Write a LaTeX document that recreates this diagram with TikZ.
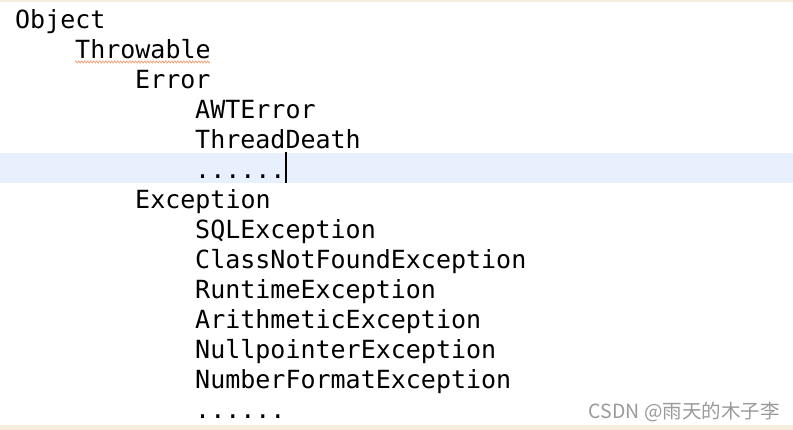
\documentclass[tikz,border=0pt]{standalone}
\usepackage{fontspec}
\setmonofont{DejaVu Sans Mono}
\newfontfamily\cjk{Noto Sans CJK SC}
\usetikzlibrary{decorations.pathmorphing}
\definecolor{beige}{HTML}{F6EFDF}
\definecolor{hl}{HTML}{E8F0FD}
\definecolor{squig}{HTML}{F2A27E}
\definecolor{wm}{HTML}{9A9A9A}
\tikzset{
  code/.style={anchor=base west, inner sep=0pt, font=\ttfamily\fontsize{25}{25}\selectfont, text=black},
  wmark/.style={anchor=base east, inner sep=0pt, font=\cjk\fontsize{19.5}{19.5}\selectfont, text=wm}
}
\begin{document}
\begin{tikzpicture}[x=1pt,y=-1pt]
\useasboundingbox (0,0) rectangle (793,430);
\fill[white] (0,0) rectangle (793,430);
\fill[beige] (0,0) rectangle (793,2.5);
\fill[beige] (0,425) rectangle (793,430);
\fill[hl] (0,153) rectangle (793,183);
\node[code] (l1) at (15,28.5) {Object};
\node[code] (l2) at (75,58.5) {Throwable};
\node[code] (l3) at (135,88.5) {Error};
\node[code] (l4) at (195,118.5) {AWTError};
\node[code] (l5) at (195,148.5) {ThreadDeath};
\node[code] (l6) at (195,178.5) {......};
\node[code] (l7) at (135,208.5) {Exception};
\node[code] (l8) at (195,238.5) {SQLException};
\node[code] (l9) at (195,268.5) {ClassNotFoundException};
\node[code] (l10) at (195,298.5) {RuntimeException};
\node[code] (l11) at (195,328.5) {ArithmeticException};
\node[code] (l12) at (195,358.5) {NullpointerException};
\node[code] (l13) at (195,388.5) {NumberFormatException};
\node[code] (l14) at (195,418.5) {......};
\draw[squig, line width=0.8pt, decorate, decoration={zigzag, segment length=3pt, amplitude=1pt}] (75,62) -- (210,62);
\draw[black, line width=1.6pt] (286,152) -- (286,183);
\node[wmark] (wm) at (780,419) {CSDN @雨天的木子李};
\end{tikzpicture}
\end{document}
